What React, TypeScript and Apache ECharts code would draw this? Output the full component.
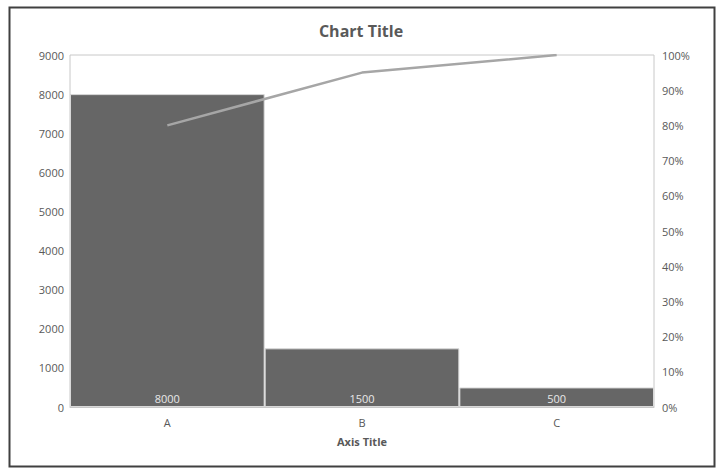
import React, { useEffect, useRef } from "react";
import * as echarts from "echarts";

const categories = ["A", "B", "C"];
const barValues = [8000, 1500, 500];
const cumulativePct = [0.8, 0.95, 1.0];

export default function App() {
  const ref = useRef<HTMLDivElement>(null);
  useEffect(() => {
    document.body.style.margin = "0";
    const chart = echarts.init(ref.current!, null, { renderer: "svg" });
    const font = "Open Sans";
    chart.setOption({
      animation: false,
      backgroundColor: "#ffffff",
      textStyle: { fontFamily: font },
      title: {
        text: "Chart Title",
        left: "center",
        top: 18,
        textStyle: { fontSize: 16, fontWeight: "bold", color: "#595959", fontFamily: font },
      },
      graphic: [
        {
          type: "rect",
          shape: { x: 9.5, y: 7.5, width: 705, height: 459 },
          style: { fill: "none", stroke: "#404040", lineWidth: 2 },
          silent: true,
        },
      ],
      grid: {
        left: 70,
        right: 68,
        top: 55,
        bottom: 68,
        show: true,
        borderColor: "#c8c8c8",
        borderWidth: 1,
      },
      xAxis: {
        type: "category",
        data: categories,
        name: "Axis Title",
        nameLocation: "middle",
        nameGap: 29,
        nameTextStyle: { fontSize: 11, fontWeight: "bold", color: "#595959" },
        axisLine: { lineStyle: { color: "#c8c8c8" } },
        axisTick: { show: false },
        axisLabel: { color: "#595959", fontSize: 11, margin: 10 },
      },
      yAxis: [
        {
          type: "value",
          min: 0,
          max: 9000,
          interval: 1000,
          splitLine: { show: false },
          axisLine: { show: false },
          axisTick: { show: false },
          axisLabel: {
            color: "#595959",
            fontSize: 11,
            margin: 6,
            formatter: (v: number) => String(v),
          },
        },
        {
          type: "value",
          min: 0,
          max: 1,
          interval: 0.1,
          position: "right",
          splitLine: { show: false },
          axisLine: { show: false },
          axisTick: { show: false },
          axisLabel: {
            color: "#595959",
            fontSize: 11,
            margin: 8,
            formatter: (v: number) => Math.round(v * 100) + "%",
          },
        },
      ],
      series: [
        {
          type: "bar",
          data: barValues,
          barCategoryGap: "0%",
          itemStyle: { color: "#666666", borderColor: "#d9d9d9", borderWidth: 1 },
          label: {
            show: true,
            position: "insideBottom",
            distance: 3,
            color: "#e8e8e8",
            fontSize: 11,
          },
        },
        {
          type: "line",
          yAxisIndex: 1,
          data: cumulativePct,
          showSymbol: false,
          symbol: "none",
          lineStyle: { color: "#a6a6a6", width: 2.5 },
        },
      ],
    });
    return () => chart.dispose();
  }, []);
  return <div ref={ref} style={{ width: 722, height: 475 }} />;
}
